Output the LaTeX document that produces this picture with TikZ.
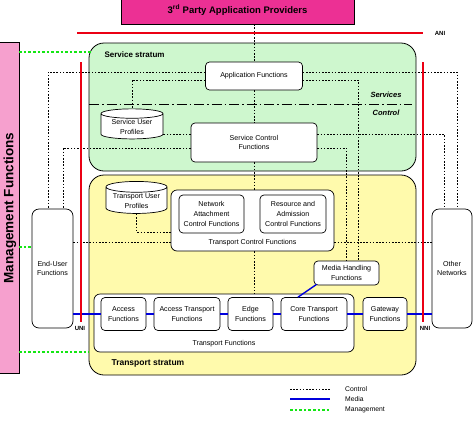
\documentclass[tikz,border=0pt]{standalone}
\usepackage{fontspec}
\setmainfont{Liberation Sans}
\usetikzlibrary{shapes.geometric}

\definecolor{providercolor}{RGB}{236,48,148}
\definecolor{mgmtcolor}{RGB}{246,160,206}
\definecolor{servicecolor}{RGB}{206,247,206}
\definecolor{transportcolor}{RGB}{255,250,172}
\definecolor{mediacolor}{RGB}{0,0,220}
\definecolor{managecolor}{RGB}{20,230,20}
\definecolor{anicolor}{RGB}{235,0,20}

\newcommand{\boxfont}{\fontsize{7.1}{9.6}\selectfont}

\tikzset{
  func/.style={draw, fill=white, rounded corners=4pt, align=center, inner sep=1pt, font=\boxfont, line width=0.7pt},
  group/.style={draw, fill=white, rounded corners=6pt, line width=0.7pt},
  stratum/.style={draw, rounded corners=15pt, line width=0.8pt},
  profile/.style={draw, fill=white, cylinder, shape border rotate=90, aspect=0.22, align=center, inner sep=1pt, font=\boxfont, line width=0.7pt},
  ctrl/.style={line width=0.9pt, dash pattern=on 1.6pt off 1.6pt},
  media/.style={mediacolor, line width=2.2pt},
  manage/.style={managecolor, line width=2.4pt, dash pattern=on 2.6pt off 2pt},
  iface/.style={anicolor, line width=1.1pt},
  tag/.style={font=\fontsize{6}{7}\selectfont\bfseries, inner sep=0pt},
  legend/.style={anchor=west, font=\fontsize{6.8}{7}\selectfont, inner sep=0pt}
}

\begin{document}
\begin{tikzpicture}[x=1pt, y=-1pt]
        \useasboundingbox (0,0) rectangle (474,445);

        % Providers and management
        \node[draw, fill=providercolor, minimum width=233pt, minimum height=28pt, font=\fontsize{9.5}{11}\selectfont\bfseries] (tpa) at (237.5,10) {3\textsuperscript{rd} Party Application Providers};
        \node[draw, fill=mgmtcolor, minimum width=22pt, minimum height=331pt] (mgmt) at (8,207.5) {};
        \node[rotate=90, font=\fontsize{13.5}{15}\selectfont\bfseries] (mgmtlbl) at (10,208) {Management Functions};

        % The two strata
        \node[stratum, fill=servicecolor, minimum width=327pt, minimum height=128pt] (svc) at (252.5,107) {};
        \node[stratum, fill=transportcolor, minimum width=327pt, minimum height=200pt] (trn) at (252.5,275) {};
        \node[anchor=west, font=\fontsize{8}{9}\selectfont\bfseries] (svclbl) at (101,55) {Service stratum};
        \node[anchor=west, font=\fontsize{8.5}{9}\selectfont\bfseries] (trnlbl) at (108,363) {Transport stratum};

        % Services / Control split
        \draw[line width=0.9pt, dash pattern=on 10pt off 3pt on 1.5pt off 3pt] (89,104) -- (412,104);
        \node[font=\fontsize{7.5}{9}\selectfont\bfseries\itshape] (srvlbl) at (386,95) {Services};
        \node[font=\fontsize{7.5}{9}\selectfont\bfseries\itshape] (ctllbl) at (386,113) {Control};

        % Service stratum functions
        \node[func, minimum width=97pt, minimum height=28pt] (af) at (254,76) {Application Functions};
        \node[profile, minimum width=62pt, minimum height=30pt] (sup) at (132,127) {Service User\\Profiles};
        \node[func, minimum width=126pt, minimum height=39pt] (scf) at (254,142.5) {Service Control\\Functions};

        % Transport stratum functions
        \node[profile, minimum width=61pt, minimum height=32pt] (tup) at (136.5,201) {Transport User\\Profiles};
        \node[group, minimum width=163pt, minimum height=61pt] (tcf) at (252.5,220.5) {};
        \node[func, minimum width=65pt, minimum height=38pt] (nacf) at (211.5,214) {Network\\Attachment\\Control Functions};
        \node[func, minimum width=66pt, minimum height=38pt] (racf) at (293,214) {Resource and\\Admission\\Control Functions};
        \node[font=\boxfont, anchor=south] (tcflbl) at ([yshift=1.5pt]tcf.south) {Transport Control Functions};
        \node[func, minimum width=65pt, minimum height=24pt] (mhf) at (346.5,273) {Media Handling\\Functions};

        \node[group, minimum width=260pt, minimum height=58pt] (tf) at (224,323) {};
        \node[font=\boxfont, anchor=south] (tflbl) at ([yshift=1.5pt]tf.south) {Transport Functions};
        \node[func, minimum width=45pt, minimum height=33pt] (acc) at (123.5,314) {Access\\Functions};
        \node[func, minimum width=66pt, minimum height=33pt] (atf) at (187,314) {Access Transport\\Functions};
        \node[func, minimum width=45pt, minimum height=33pt] (edg) at (250.5,314) {Edge\\Functions};
        \node[func, minimum width=66pt, minimum height=33pt] (ctf) at (314,314) {Core Transport\\Functions};
        \node[func, minimum width=44pt, minimum height=33pt] (gwf) at (385,314) {Gateway\\Functions};

        % End users and other networks
        \node[func, rounded corners=7pt, minimum width=41pt, minimum height=119pt] (euf) at (52.5,268.5) {End-User\\Functions};
        \node[func, rounded corners=7pt, minimum width=40pt, minimum height=119pt] (onw) at (452,268.5) {Other\\Networks};

        % Control links
        \coordinate (tcfy) at (0,242);
        \draw[ctrl] (tpa.south -| af) -- (af.north);
        \draw[ctrl] (af.south) -- (af.south |- scf.north);
        \draw[ctrl] (scf.south) -- (scf.south |- tcf.north);
        \draw[ctrl] (scf.south |- tcf.south) -- (scf.south |- tf.north);
        \draw[ctrl] ([yshift=4pt]af.west) -| ([xshift=-4.5pt]euf.north);
        \draw[ctrl] ([yshift=4pt]af.east) -| ([xshift=5pt]onw.north);
        \draw[ctrl] ([yshift=-4pt]af.west) -| (sup.north);
        \draw[ctrl] ([yshift=-4pt]af.east) -| ([xshift=11.5pt]mhf.north);
        \draw[ctrl] ([yshift=-5.5pt]scf.east) -| (mhf.north);
        \draw[ctrl] ([yshift=8.5pt]scf.east) -| ([xshift=-8pt]onw.north);
        \draw[ctrl] ([yshift=8.5pt]scf.west) -- ([yshift=8.5pt]scf.west -| sup.east);
        \draw[ctrl] ([yshift=-5.5pt]scf.west) -| ([xshift=10.5pt]euf.north);
        \draw[ctrl] (euf.east |- tcfy) -- (tcf.west |- tcfy);
        \draw[ctrl] (tcf.east |- tcfy) -- (onw.west |- tcfy);
        \draw[ctrl] (tup.south) |- ([yshift=-11.5pt]tcf.west);

        % Media links
        \draw[media] (euf.east |- acc) -- (acc.west);
        \draw[media] (acc.east) -- (atf.west);
        \draw[media] (atf.east) -- (edg.west);
        \draw[media] (edg.east) -- (ctf.west);
        \draw[media] (ctf.east) -- (gwf.west);
        \draw[media] (gwf.east) -- (onw.west |- gwf);
        \draw[mediacolor, line width=1.4pt] ([xshift=3pt, yshift=1pt]mhf.south west) -- ([xshift=-16pt]ctf.north);

        % Management links
        \draw[manage] (mgmt.east |- 0,52) -- (91,52);
        \draw[manage] (mgmt.east |- 0,247) -- (euf.west |- 0,247);
        \draw[manage] (mgmt.east |- 0,352) -- (trn.west |- 0,352);

        % Interfaces
        \draw[iface] (77,33) -- (423,33);
        \draw[iface] (81,62) -- (81,322);
        \draw[iface] (423,62) -- (423,322);
        \node[tag] (ani) at (440,33) {ANI};
        \node[tag] (uni) at (80,328) {UNI};
        \node[tag] (nni) at (425,328) {NNI};

        % Legend
        \node[legend] (lgctl) at (345,389) {Control};
        \node[legend] (lgmed) at (345,399) {Media};
        \node[legend] (lgmgt) at (345,410) {Management};
        \draw[ctrl] ([xshift=-55pt]lgctl.west) -- ([xshift=-15pt]lgctl.west);
        \draw[media, line width=1.6pt] ([xshift=-55pt]lgmed.west) -- ([xshift=-15pt]lgmed.west);
        \draw[manage] ([xshift=-55pt]lgmgt.west) -- ([xshift=-15pt]lgmgt.west);
    \end{tikzpicture}
\end{document}
